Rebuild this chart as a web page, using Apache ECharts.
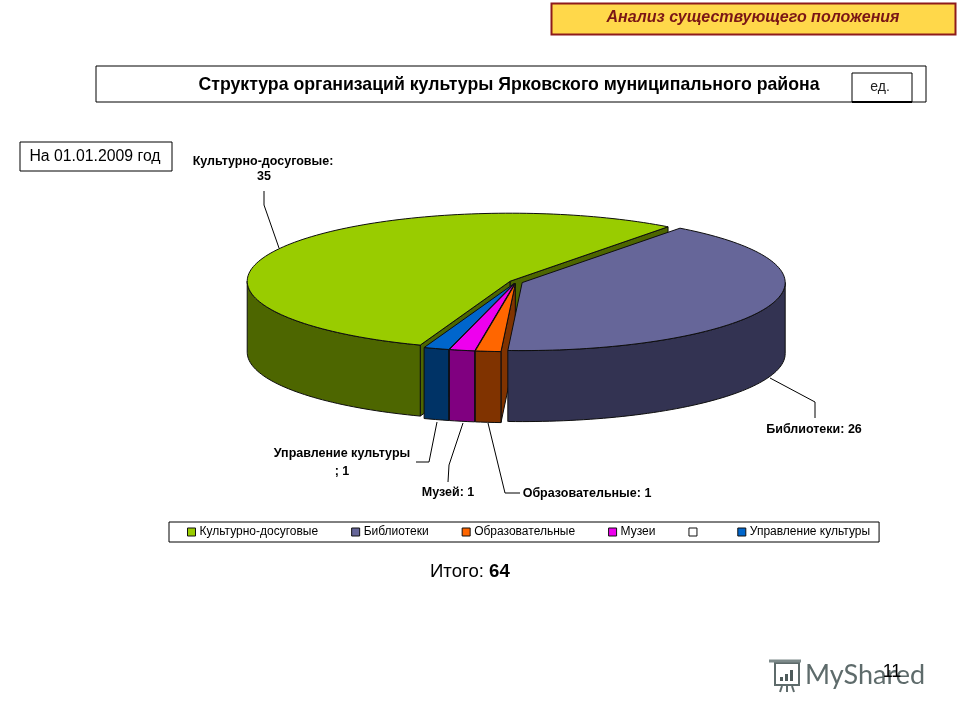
<!DOCTYPE html>
<html><head><meta charset="utf-8">
<style>html,body{margin:0;padding:0;background:#fff}#c{width:960px;height:720px}</style>
<script src="https://cdn.jsdelivr.net/npm/echarts@6/dist/echarts.min.js"></script>
</head><body><div id="c"></div>
<script>
// ---- data ----
const categories = ['Культурно-досуговые','Библиотеки','Образовательные','Музеи',' ','Управление культуры'];
const values = [35,26,1,1,0,1];
const labelNames = ['Культурно-досуговые','Библиотеки','Образовательные','Музей',' ','Управление культуры'];
const topColors = ['#99CC00','#666699','#FF6600','#EE00EE','#FFFFFF','#0066CC'];
const sideColors = ['#4D6600','#333352','#803300','#800080','#FFFFFF','#003366'];
const drawOrder = [0,5,4,3,2,1];
const totalLabel = 'Итого: ';

// ---- layout ----
const FONT = '"Liberation Sans", Arial, sans-serif';
const PIE = {cx:516, cy:282, rx:263, ry:68, depth:71, explode:0.025, start:200};
const total = values.reduce((a,b)=>a+b,0);
const RAD = Math.PI/180;

function sliceAngles(i){
  let s = PIE.start;
  for(let k=0;k<i;k++) s += values[k]/total*360;
  return [s, s+values[i]/total*360];
}
function renderSlice(i){
  return function(params, api){
    const v = api.value(0);
    if(!v) return {type:'group',children:[]};
    const [a0,a1] = sliceAngles(i);
    const mid = (a0+a1)/2*RAD;
    const ax = PIE.cx + PIE.explode*PIE.rx*Math.sin(mid);
    const ay = PIE.cy - PIE.explode*PIE.ry*Math.cos(mid);
    const pt = (deg,dz)=>[ax+PIE.rx*Math.sin(deg*RAD), ay-PIE.ry*Math.cos(deg*RAD)+(dz||0)];
    const stroke = '#0d0d0d';
    const poly = (pts,fill)=>({type:'polygon',shape:{points:pts},style:{fill:fill,stroke:stroke,lineWidth:1,lineJoin:'round'}});
    const children = [];
    const side = sideColors[i], top = topColors[i], d = PIE.depth;
    // radial walls, only when they face the viewer
    if(-Math.sin(a0*RAD)>0) children.push(poly([[ax,ay],pt(a0),pt(a0,d),[ax,ay+d]],side));
    if(Math.sin(a1*RAD)>0) children.push(poly([[ax,ay],pt(a1),pt(a1,d),[ax,ay+d]],side));
    // outer wall: the lower half of the ellipse
    const ranges = [[90,270],[450,630]];
    ranges.forEach(r=>{
      const f=Math.max(a0,r[0]), t=Math.min(a1,r[1]);
      if(t>f){
        const up=[],dn=[];
        for(let x=f;x<t;x+=1.5){up.push(pt(x));dn.unshift(pt(x,d));}
        up.push(pt(t));dn.unshift(pt(t,d));
        children.push(poly(up.concat(dn),side));
      }
    });
    // top face
    const pts=[[ax,ay]];
    for(let x=a0;x<a1;x+=1.5) pts.push(pt(x));
    pts.push(pt(a1));
    children.push(poly(pts,top));
    return {type:'group',children};
  };
}

const series = drawOrder.map(i=>({
  type:'custom', name:categories[i], coordinateSystem:'none',
  animation:false, silent:true,
  itemStyle:{color:topColors[i]},
  data:[[values[i]]],
  renderItem:renderSlice(i)
}));

// ---- annotations ----
const leaders = [
  [[279,248],[264,205],[264,191]],
  [[770,378],[815,402],[815,418]],
  [[488,423],[505,493],[520,493]],
  [[463,423],[449,465],[448,482]],
  [[437,422],[429,462],[416,462]]
];
const labelBold = 'bold 12.5px '+FONT;
function txt(x,y,text,font,extra){
  return {type:'text',z:10,x:x,y:y,silent:true,style:Object.assign({text:text,font:font,fill:'#000',align:'center',verticalAlign:'middle'},extra||{})};
}
function box(x,y,w,h,fill,stroke,lw){
  return {type:'rect',z:1,silent:true,shape:{x:x,y:y,width:w,height:h},style:{fill:fill,stroke:stroke,lineWidth:lw}};
}
const graphics = [
  box(551.5,3.5,404,31,'#FFD84A','#8E1B1B',2),
  txt(753,18,'Анализ существующего положения','italic bold 16px '+FONT,{fill:'#7A1616'}),
  box(96,66,830,36,'#fff','#000',1),
  txt(509,85.5,'Структура организаций культуры Ярковского муниципального района','bold 17.7px '+FONT),
  box(852,73,60,29,'#fff','#000',1),
  {type:'line',z:2,silent:true,shape:{x1:852,y1:102,x2:912,y2:102},style:{stroke:'#000',lineWidth:2}},
  txt(880,87.5,'ед.','14px '+FONT,{fill:'#222'}),
  box(20,142,152,29,'#fff','#000',1),
  txt(95,157,'На 01.01.2009 год','15.8px '+FONT),
  txt(263,162,labelNames[0]+':',labelBold),
  txt(264,177,String(values[0]),labelBold),
  txt(814,429.5,labelNames[1]+': '+values[1],labelBold),
  txt(587,494,labelNames[2]+': '+values[2],labelBold),
  txt(448,493,labelNames[3]+': '+values[3],labelBold),
  txt(342,454,labelNames[5],labelBold),
  txt(342,472,'; '+values[5],labelBold),
  {type:'text',z:10,silent:true,x:430,y:572,style:{text:'{a|'+totalLabel+'}{b|'+total+'}',align:'left',verticalAlign:'middle',rich:{a:{font:'18.6px '+FONT,fill:'#000'},b:{font:'bold 18.6px '+FONT,fill:'#000'}}}},
  // watermark
  {type:'rect',z:5,silent:true,shape:{x:775,y:663,width:24,height:22},style:{fill:'#fff',stroke:'#5e6b6b',lineWidth:2}},
  {type:'line',z:5,silent:true,shape:{x1:769,y1:661,x2:801,y2:661},style:{stroke:'#7d8a8a',lineWidth:3}},
  {type:'rect',z:5,silent:true,shape:{x:780,y:677,width:3,height:4},style:{fill:'#4e5b5b'}},
  {type:'rect',z:5,silent:true,shape:{x:785,y:674,width:3,height:7},style:{fill:'#4e5b5b'}},
  {type:'rect',z:5,silent:true,shape:{x:790,y:670,width:3,height:11},style:{fill:'#4e5b5b'}},
  {type:'line',z:5,silent:true,shape:{x1:782,y1:686,x2:780,y2:692},style:{stroke:'#5e6b6b',lineWidth:2}},
  {type:'line',z:5,silent:true,shape:{x1:787,y1:686,x2:787,y2:692},style:{stroke:'#5e6b6b',lineWidth:2}},
  {type:'line',z:5,silent:true,shape:{x1:792,y1:686,x2:794,y2:692},style:{stroke:'#5e6b6b',lineWidth:2}},
  txt(805,675,'MyShared','27px Lato, '+FONT,{fill:'#5e6b6b',align:'left'}),
  txt(892,672,'11','18px '+FONT)
];
leaders.forEach(l=>graphics.push({type:'polyline',z:9,silent:true,shape:{points:l},style:{stroke:'#000',lineWidth:1,fill:null}}));

const chart = echarts.init(document.getElementById('c'),null,{renderer:'canvas'});
chart.setOption({
  animation:false,
  backgroundColor:'#fff',
  legend:{
    data:categories, left:169, top:522, orient:'horizontal',
    padding:[4,9,4,18], itemGap:33, itemWidth:8, itemHeight:8, icon:'rect',
    selectedMode:false, borderColor:'#000', borderWidth:1, borderRadius:0, backgroundColor:'#fff',
    itemStyle:{borderColor:'#111',borderWidth:1},
    textStyle:{fontFamily:FONT,fontSize:12,color:'#000',padding:[0,0,0,-1]}
  },
  graphic:{elements:graphics},
  series:series
});
</script></body></html>
